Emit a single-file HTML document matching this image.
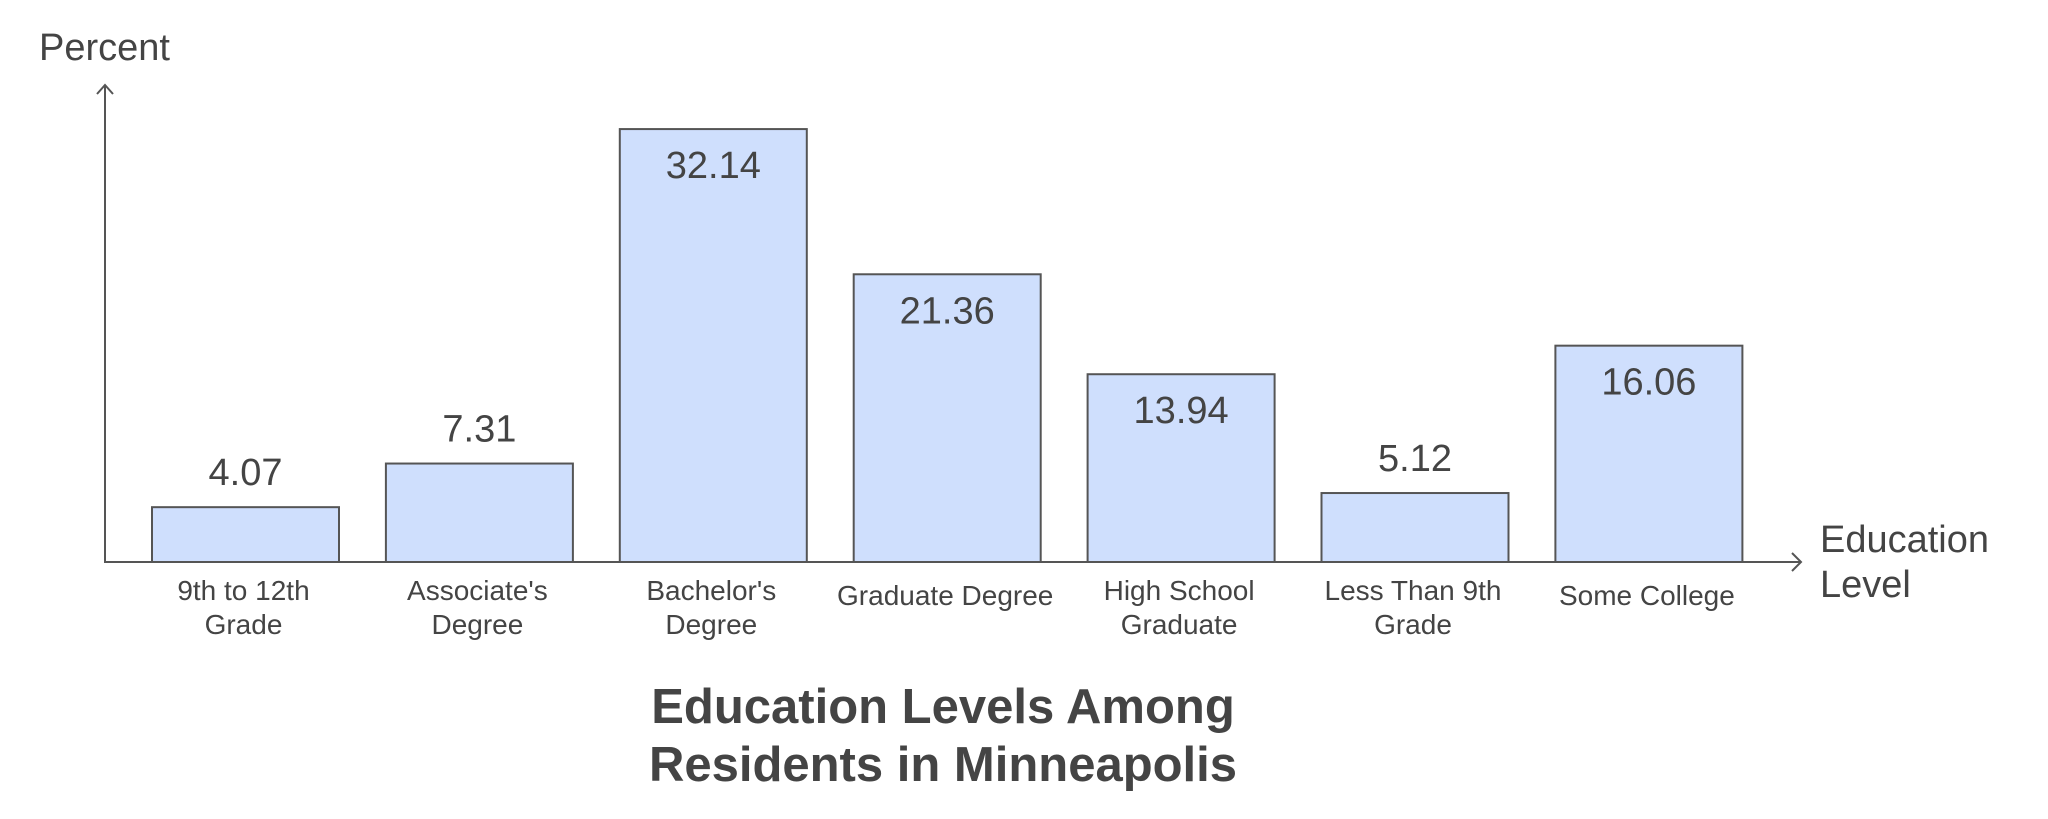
<!DOCTYPE html>
<html><head><meta charset="utf-8"><style>
html,body{margin:0;padding:0;background:#fff;}
svg{display:block;font-family:"Liberation Sans",Arial,sans-serif;}
</style></head><body>
<svg id="chart" width="2048" height="819" viewBox="0 0 2048 819" xmlns="http://www.w3.org/2000/svg">
<g id="bars"></g>
<g id="axes">
<line x1="105" y1="562" x2="105" y2="86" stroke="#555" stroke-width="2"/>
<polyline points="97,94 105,85 113,94" fill="none" stroke="#555" stroke-width="2"/>
<line x1="104" y1="562" x2="1800" y2="562" stroke="#555" stroke-width="2"/>
<polyline points="1792,553 1801,562 1792,571" fill="none" stroke="#555" stroke-width="2"/>
</g>
<text x="39" y="60" font-size="38" fill="#444">Percent</text>
<text x="1820" y="552" font-size="38" fill="#444">Education<tspan x="1820" y="597">Level</tspan></text>
<text x="943" y="723" font-size="49" font-weight="bold" fill="#444" text-anchor="middle">Education Levels Among<tspan x="943" y="781">Residents in Minneapolis</tspan></text>
</svg>
<script>
const categories = [["9th to 12th","Grade"],["Associate's","Degree"],["Bachelor's","Degree"],["Graduate Degree"],["High School","Graduate"],["Less Than 9th","Grade"],["Some College"]];
const values = [4.07, 7.31, 32.14, 21.36, 13.94, 5.12, 16.06];
const valueLabels = ["4.07","7.31","32.14","21.36","13.94","5.12","16.06"];

const NS = "http://www.w3.org/2000/svg";
const baseY = 562, pxPerUnit = 13.47, firstX = 152, step = 233.9, barW = 187;
function yScale(v){ return baseY - v * pxPerUnit; }
function xScale(i){ return firstX + i * step; }
const g = document.getElementById('bars');
values.forEach((v, i) => {
  const x = xScale(i), top = yScale(v);
  const r = document.createElementNS(NS, 'rect');
  
  
  r.setAttribute('x', x); r.setAttribute('y', top);
  r.setAttribute('width', barW); r.setAttribute('height', baseY - top);
  r.setAttribute('fill', '#cfdffd'); r.setAttribute('stroke', '#555'); r.setAttribute('stroke-width', '2');
  g.appendChild(r);
  const t = document.createElementNS(NS, 'text');
  
  
  const inside = (baseY - top) > 120;
  t.setAttribute('x', x + barW / 2);
  t.setAttribute('y', inside ? top + 49 : top - 22);
  t.setAttribute('text-anchor', 'middle'); t.setAttribute('font-size', '38'); t.setAttribute('fill', '#444');
  t.textContent = valueLabels[i];
  g.appendChild(t);
  const c = document.createElementNS(NS, 'text');
  
  
  c.setAttribute('text-anchor', 'middle'); c.setAttribute('font-size', '28'); c.setAttribute('fill', '#444');
  const lines = categories[i];
  const y0 = lines.length === 1 ? 605 : 600;
  lines.forEach((ln, k) => {
    const s = document.createElementNS(NS, 'tspan');
    s.setAttribute('x', x + barW / 2 - 2);
    s.setAttribute('y', y0 + k * 34);
    s.textContent = ln;
    c.appendChild(s);
  });
  g.appendChild(c);
});
</script>
</body></html>
